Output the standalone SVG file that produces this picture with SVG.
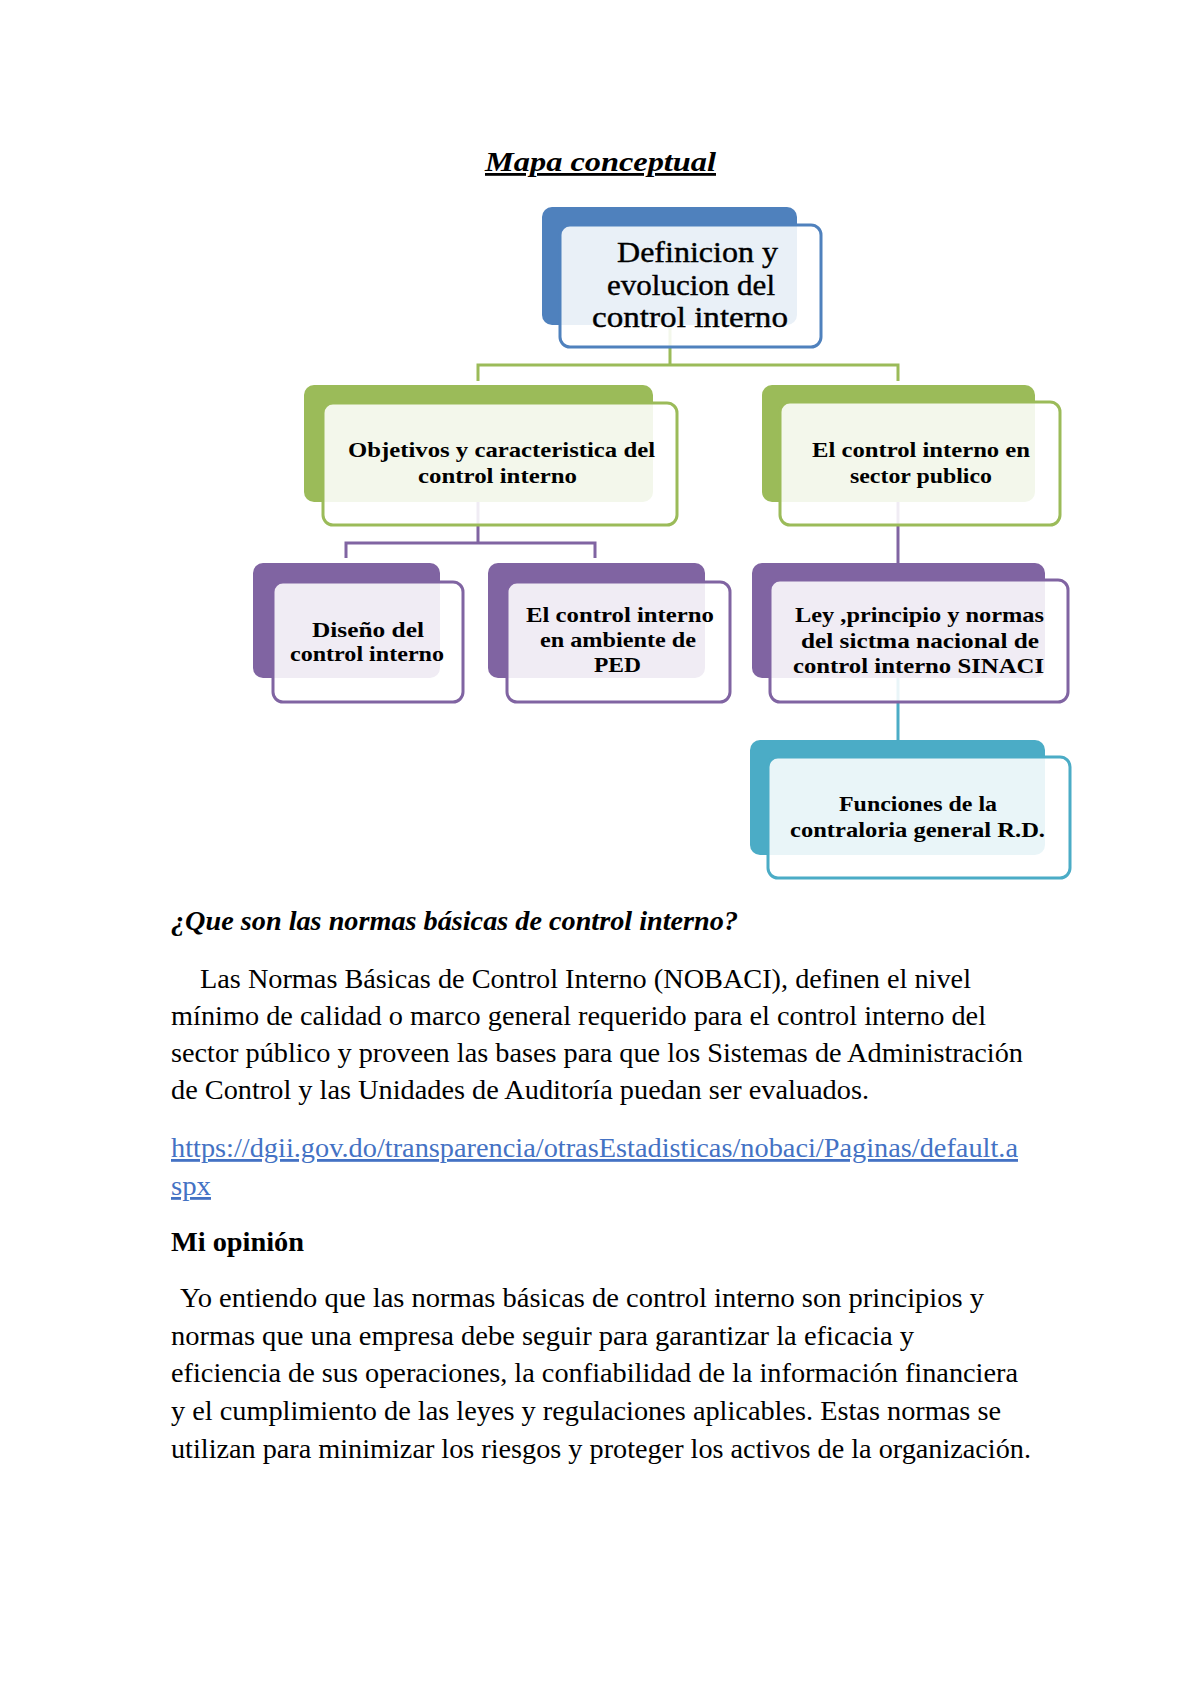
<svg xmlns="http://www.w3.org/2000/svg" width="1200" height="1697" viewBox="0 0 1200 1697">
<style>
.bg{fill:#ffffff}
.t{font-family:"Liberation Serif","Times New Roman",serif;fill:#000}
.box{font-size:22px;font-weight:bold}
.root{font-size:30px;stroke:#000;stroke-width:0.4}
.body{font-size:28px}
.back{stroke:none}
.front{fill:#ffffff;fill-opacity:0.88;stroke-width:3}
.blue .back{fill:#4f81bd}.blue .front{stroke:#4f81bd}
.green .back{fill:#9bbb59}.green .front{stroke:#9bbb59}
.purple .back{fill:#8064a2}.purple .front{stroke:#8064a2}
.teal .back{fill:#4bacc6}.teal .front{stroke:#4bacc6}
.con{fill:none;stroke-width:3}
</style>
<rect class="bg" x="0" y="0" width="1200" height="1697"/>
<text class="t" x="485" y="171" font-size="28" font-weight="bold" font-style="italic" text-decoration="underline" textLength="231" lengthAdjust="spacingAndGlyphs">Mapa conceptual</text>
<g id="connectors">
<path class="con" stroke="#9bbb59" d="M670,325 V365 M478,381 V365 H898 V381"/>
<path class="con" stroke="#8064a2" d="M478,502 V543 M346,558 V543 H595 V558"/>
<path class="con" stroke="#8064a2" d="M898,502 V563"/>
<path class="con" stroke="#4bacc6" d="M898,678 V740"/>
</g>
<g id="n-root" class="blue">
<rect class="back" x="542" y="207" width="255" height="118" rx="10"/>
<rect class="front" x="560" y="225" width="261" height="122" rx="10"/>
<text class="t root" x="617" y="262" textLength="161" lengthAdjust="spacingAndGlyphs">Definicion y</text>
<text class="t root" x="607" y="295" textLength="168" lengthAdjust="spacingAndGlyphs">evolucion del</text>
<text class="t root" x="592" y="327" textLength="196" lengthAdjust="spacingAndGlyphs">control interno</text>
</g>
<g id="n-objetivos" class="green">
<rect class="back" x="304" y="385" width="349" height="117" rx="10"/>
<rect class="front" x="323" y="403" width="354" height="122" rx="10"/>
<text class="t box" x="348" y="457" textLength="307" lengthAdjust="spacingAndGlyphs">Objetivos y caracteristica  del</text>
<text class="t box" x="418" y="483" textLength="159" lengthAdjust="spacingAndGlyphs">control interno</text>
</g>
<g id="n-sector" class="green">
<rect class="back" x="762" y="385" width="273" height="117" rx="10"/>
<rect class="front" x="780" y="402" width="280" height="123" rx="10"/>
<text class="t box" x="812" y="457" textLength="218" lengthAdjust="spacingAndGlyphs">El control interno en</text>
<text class="t box" x="850" y="483" textLength="142" lengthAdjust="spacingAndGlyphs">sector publico</text>
</g>
<g id="n-diseno" class="purple">
<rect class="back" x="253" y="563" width="187" height="115" rx="10"/>
<rect class="front" x="273" y="582" width="190" height="120" rx="10"/>
<text class="t box" x="312" y="637" textLength="112" lengthAdjust="spacingAndGlyphs">Diseño del</text>
<text class="t box" x="290" y="661" textLength="154" lengthAdjust="spacingAndGlyphs">control interno</text>
</g>
<g id="n-ped" class="purple">
<rect class="back" x="488" y="563" width="217" height="115" rx="10"/>
<rect class="front" x="507" y="582" width="223" height="120" rx="10"/>
<text class="t box" x="526" y="622" textLength="188" lengthAdjust="spacingAndGlyphs">El control interno</text>
<text class="t box" x="540" y="647" textLength="156" lengthAdjust="spacingAndGlyphs">en ambiente de</text>
<text class="t box" x="594" y="672" textLength="47" lengthAdjust="spacingAndGlyphs">PED</text>
</g>
<g id="n-ley" class="purple">
<rect class="back" x="752" y="563" width="293" height="115" rx="10"/>
<rect class="front" x="770" y="580" width="298" height="122" rx="10"/>
<text class="t box" x="795" y="622" textLength="249" lengthAdjust="spacingAndGlyphs">Ley ,principio y normas</text>
<text class="t box" x="801" y="648" textLength="238" lengthAdjust="spacingAndGlyphs">del sictma nacional de</text>
<text class="t box" x="793" y="673" textLength="251" lengthAdjust="spacingAndGlyphs">control interno SINACI</text>
</g>
<g id="n-funciones" class="teal">
<rect class="back" x="750" y="740" width="295" height="115" rx="10"/>
<rect class="front" x="768" y="757" width="302" height="121" rx="10"/>
<text class="t box" x="839" y="811" textLength="158" lengthAdjust="spacingAndGlyphs">Funciones de la</text>
<text class="t box" x="790" y="837" textLength="255" lengthAdjust="spacingAndGlyphs">contraloria general R.D.</text>
</g>
<g id="texto">
<text class="t body" x="171" y="930" font-weight="bold" font-style="italic" textLength="567" lengthAdjust="spacingAndGlyphs">¿Que son las normas básicas de control interno?</text>
<text class="t body" x="200" y="988" textLength="771" lengthAdjust="spacingAndGlyphs">Las Normas Básicas de Control Interno (NOBACI), definen el nivel</text>
<text class="t body" x="171" y="1025" textLength="815" lengthAdjust="spacingAndGlyphs">mínimo de calidad o marco general requerido para el control interno del</text>
<text class="t body" x="171" y="1062" textLength="852" lengthAdjust="spacingAndGlyphs">sector público y proveen las bases para que los Sistemas de Administración</text>
<text class="t body" x="171" y="1099" textLength="698" lengthAdjust="spacingAndGlyphs">de Control y las Unidades de Auditoría puedan ser evaluados.</text>
<text class="t body" x="171" y="1157" fill="#4472c4" style="fill:#4472c4" text-decoration="underline" textLength="847" lengthAdjust="spacingAndGlyphs">https://dgii.gov.do/transparencia/otrasEstadisticas/nobaci/Paginas/default.a</text>
<text class="t body" x="171" y="1195" style="fill:#4472c4" text-decoration="underline" textLength="40" lengthAdjust="spacingAndGlyphs">spx</text>
<text class="t body" x="171" y="1251" font-weight="bold" textLength="133" lengthAdjust="spacingAndGlyphs">Mi opinión</text>
<text class="t body" x="180" y="1307" textLength="804" lengthAdjust="spacingAndGlyphs">Yo entiendo  que las normas básicas de control interno son principios y</text>
<text class="t body" x="171" y="1345" textLength="743" lengthAdjust="spacingAndGlyphs">normas  que una empresa debe seguir para garantizar la eficacia y</text>
<text class="t body" x="171" y="1382" textLength="847" lengthAdjust="spacingAndGlyphs">eficiencia de sus operaciones, la confiabilidad de la información financiera</text>
<text class="t body" x="171" y="1420" textLength="830" lengthAdjust="spacingAndGlyphs">y el cumplimiento de las leyes y regulaciones aplicables. Estas normas se</text>
<text class="t body" x="171" y="1458" textLength="860" lengthAdjust="spacingAndGlyphs">utilizan para minimizar los riesgos y proteger los activos de la organización.</text>
</g>
</svg>
